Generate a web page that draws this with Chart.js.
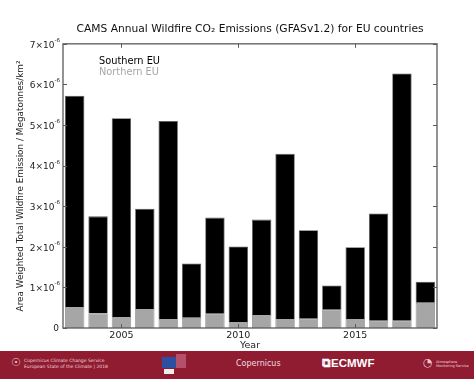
<!DOCTYPE html>
<html>
<head>
<meta charset="utf-8">
<script src="https://cdn.jsdelivr.net/npm/chart.js@4"></script>
<style>
  html, body { margin: 0; padding: 0; background: #fff; width: 474px; height: 379px; overflow: hidden; }
  #wrap { position: absolute; left: 0; top: 0; width: 474px; height: 351px; }
  #footer { position: absolute; left: 0; top: 351px; width: 474px; height: 28px; background: #8f1c31; font-family: "DejaVu Sans", sans-serif; color: #f3d6dc; }
  #footer span { position: absolute; white-space: nowrap; }
</style>
</head>
<body>
<div id="wrap"><canvas id="c" width="474" height="351"></canvas></div>
<div id="footer">
  <span style="left:11px;top:5px;font-size:11px;color:#f0c8d0;">&#x2609;</span>
  <span style="left:24px;top:7px;font-size:4.5px;line-height:6px;">Copernicus Climate Change Service<br>European State of the Climate | 2018</span>
  <div style="position:absolute;left:162px;top:6px;width:14px;height:11px;background:#2c4fa0;"></div>
  <div style="position:absolute;left:176px;top:3px;width:10px;height:14px;background:#b5506a;"></div>
  <div style="position:absolute;left:164px;top:18px;width:10px;height:5px;background:#eee;"></div>
  <span style="left:236px;top:8px;font-size:8px;color:#f3dde2;">Copernicus</span>
  <span style="left:322px;top:6px;font-size:11.5px;font-weight:bold;color:#fff;font-family:'Liberation Sans',sans-serif;">&#x29C9;ECMWF</span>
  <span style="left:423px;top:5px;font-size:11px;color:#f0c8d0;">&#x25D4;</span>
  <span style="left:436px;top:9px;font-size:3.5px;line-height:4px;">Atmosphere<br>Monitoring Service</span>
</div>
<script>
const years = [2003, 2004, 2005, 2006, 2007, 2008, 2009, 2010, 2011, 2012, 2013, 2014, 2015, 2016, 2017, 2018];
const northernEU = [0.52e-6, 0.36e-6, 0.27e-6, 0.47e-6, 0.22e-6, 0.25e-6, 0.35e-6, 0.15e-6, 0.32e-6, 0.22e-6, 0.23e-6, 0.45e-6, 0.22e-6, 0.18e-6, 0.18e-6, 0.62e-6];
const southernEU = [5.20e-6, 2.39e-6, 4.90e-6, 2.47e-6, 4.88e-6, 1.34e-6, 2.37e-6, 1.86e-6, 2.35e-6, 4.07e-6, 2.18e-6, 0.60e-6, 1.77e-6, 2.64e-6, 6.09e-6, 0.52e-6];
const shownYears = [2005, 2010, 2015];
const yTickMantissa = ['0', '1×10', '2×10', '3×10', '4×10', '5×10', '6×10', '7×10'];
const yTickExponent = '-6';

const FONT = "'DejaVu Sans', sans-serif";
const frameColor = '#5a5a5a';

const framePlugin = {
  id: 'frame',
  afterDatasetsDraw(chart) {
    const ctx = chart.ctx, a = chart.chartArea;
    const xs = chart.scales.x, ys = chart.scales.y;
    ctx.save();
    ctx.strokeStyle = frameColor;
    ctx.lineWidth = 1.3;
    ctx.strokeRect(a.left, a.top, a.right - a.left, a.bottom - a.top);
    ctx.lineWidth = 1;
    const tl = 4;
    shownYears.forEach(yr => {
      const px = Math.round(xs.getPixelForValue(years.indexOf(yr))) + 0.5;
      ctx.beginPath();
      ctx.moveTo(px, a.bottom); ctx.lineTo(px, a.bottom - tl);
      ctx.moveTo(px, a.top); ctx.lineTo(px, a.top + tl);
      ctx.stroke();
    });
    ctx.textBaseline = 'middle';
    yTickMantissa.forEach((m, i) => {
      const yv = ys.getPixelForValue(i * 1e-6);
      const py = Math.round(yv) + 0.5;
      ctx.beginPath();
      ctx.moveTo(a.left, py); ctx.lineTo(a.left + tl, py);
      ctx.moveTo(a.right, py); ctx.lineTo(a.right - tl, py);
      ctx.stroke();
      ctx.fillStyle = '#222';
      if (i === 0) {
        ctx.font = '9px ' + FONT;
        ctx.textAlign = 'right';
        ctx.fillText(m, a.left - 4, yv + 1);
      } else {
        ctx.font = '5.5px ' + FONT;
        ctx.textAlign = 'right';
        const ew = ctx.measureText(yTickExponent).width;
        ctx.fillText(yTickExponent, a.left - 3, yv - 3.5);
        ctx.font = '9px ' + FONT;
        ctx.fillText(m, a.left - 3 - ew, yv + 1.5);
      }
    });
    ctx.font = '9.8px ' + FONT;
    ctx.textBaseline = 'middle';
    ctx.textAlign = 'left';
    ctx.fillStyle = '#000';
    ctx.fillText('Southern EU', a.left + 36, a.top + 18);
    ctx.fillStyle = '#a6a6a6';
    ctx.fillText('Northern EU', a.left + 36, a.top + 29);
    ctx.restore();
  }
};

new Chart(document.getElementById('c'), {
  type: 'bar',
  data: {
    labels: years.map(String),
    datasets: [
      { label: 'Northern EU', data: northernEU, backgroundColor: '#a6a6a6', borderColor: '#8a8a8a', borderWidth: 0.8, barPercentage: 0.83, categoryPercentage: 1.0 },
      { label: 'Southern EU', data: southernEU, backgroundColor: '#000000', borderColor: '#5a5a5a', borderWidth: 0.8, barPercentage: 0.83, categoryPercentage: 1.0 }
    ]
  },
  options: {
    responsive: false,
    animation: false,
    devicePixelRatio: 1,
    layout: { padding: { left: 0, right: 37, top: 0, bottom: 0 } },
    plugins: {
      legend: { display: false },
      tooltip: { enabled: false },
      title: {
        display: true,
        fullSize: false,
        text: 'CAMS Annual Wildfire CO₂ Emissions (GFASv1.2) for EU countries',
        color: '#111',
        font: { family: FONT, size: 10.7, weight: 'normal' },
        padding: { top: 23, bottom: 8 }
      }
    },
    scales: {
      x: {
        stacked: true,
        grid: { display: false, drawTicks: false },
        border: { display: false },
        ticks: {
          autoSkip: false, maxRotation: 0, padding: 2,
          color: '#222', font: { family: FONT, size: 9.5 },
          callback: function (v, i) { return shownYears.includes(years[i]) ? String(years[i]) : ''; }
        },
        title: { display: true, text: 'Year', color: '#222', font: { family: FONT, size: 9.5 }, padding: { top: -2, bottom: 0 } },
        afterFit(s) { s.height = 23; }
      },
      y: {
        stacked: true,
        min: 0, max: 7e-6,
        grid: { display: false, drawTicks: false },
        border: { display: false },
        ticks: { display: false, stepSize: 1e-6 },
        title: { display: true, text: 'Area Weighted Total Wildfire Emission / Megatonnes/km²', color: '#222', font: { family: FONT, size: 8.9 }, padding: { top: 15, bottom: 0 } },
        afterFit(s) { s.width = 63; }
      }
    }
  },
  plugins: [framePlugin]
});
</script>
</body>
</html>
